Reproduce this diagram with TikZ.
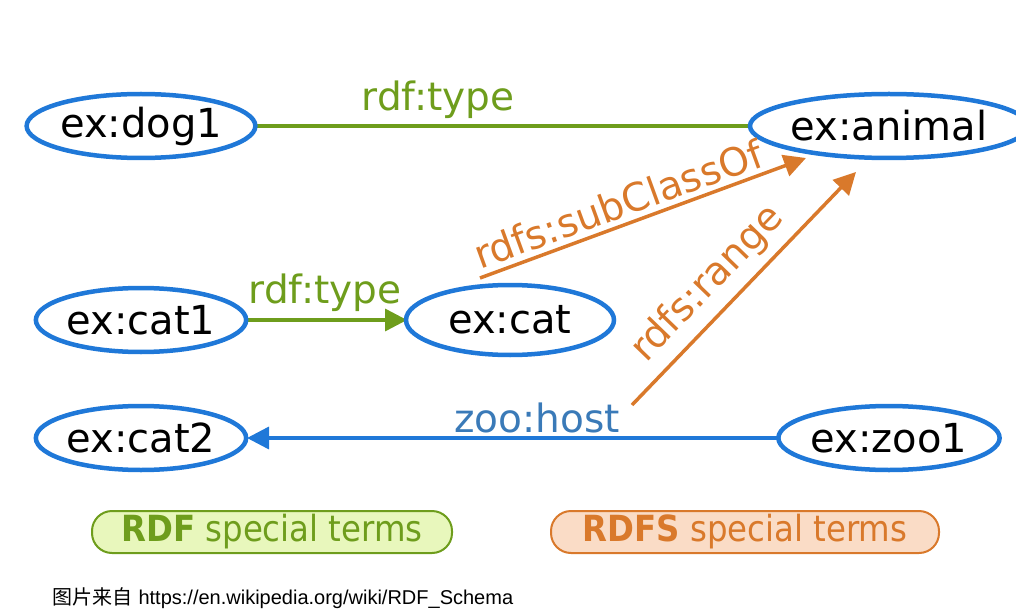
\documentclass[tikz,border=0pt]{standalone}
\usepackage{fontspec}
\setmainfont{DejaVu Sans}
\newfontfamily\cond{DejaVu Sans Condensed}
\newfontfamily\cjk{Noto Sans CJK SC}
\usetikzlibrary{arrows.meta,shapes.geometric}
\definecolor{bl}{HTML}{1F78D8}
\definecolor{bltx}{HTML}{3A7AB8}
\definecolor{gr}{HTML}{6E9D1C}
\definecolor{or}{HTML}{D9792B}
\definecolor{grfill}{HTML}{E8F7BC}
\definecolor{orfill}{HTML}{FADCC6}
\begin{document}
\begin{tikzpicture}[x=1pt,y=-1pt,
  res/.style={draw=bl,fill=white,line width=4.5pt,ellipse,minimum width=205pt,minimum height=64pt,inner sep=0pt,font=\fontsize{40}{42}\selectfont},
  arr/.style={line width=3.5pt,-{Triangle[length=22pt,width=22pt]}},
  lab/.style={font=\fontsize{39}{41}\selectfont}]
\useasboundingbox (0,0) rectangle (1016,612);
\draw[arr,gr] (245,126) -- (784,126);
\draw[arr,gr] (245,320) -- (407,320);
\draw[arr,bl] (785,438) -- (247,438);
\draw[arr,or] (480,278) -- (806,158);
\draw[arr,or] (632,405) -- (856,172);
\node[res] (dog1) at (141,126) {ex:dog1};
\node[res] (animal) at (889,126) {ex:animal};
\node[res] (cat1) at (141,320) {ex:cat1};
\node[res,minimum width=208pt,minimum height=70pt] (cat) at (510,320) {ex:cat};
\node[res] (cat2) at (141,438) {ex:cat2};
\node[res] (zoo1) at (889,438) {ex:zoo1};
\node[lab,text=gr] (l1) at (438,100) {rdf:type};
\node[lab,text=gr] (l2) at (325,293) {rdf:type};
\node[lab,text=bltx] (l3) at (537,418) {zoo:host};
\node[lab,text=or,rotate=20] (l4) at (618,204) {rdfs:subClassOf};
\node[lab,text=or,rotate=46] (l5) at (708,284) {rdfs:range};
\node[draw=gr,line width=2pt,fill=grfill,rounded corners=20pt,minimum width=360pt,minimum height=42pt,font=\cond\fontsize{36}{38}\selectfont,text=gr] (rdf) at (272,532) {\textbf{RDF} special terms};
\node[draw=or,line width=2pt,fill=orfill,rounded corners=20pt,minimum width=388pt,minimum height=42pt,font=\cond\fontsize{36}{38}\selectfont,text=or] (rdfs) at (745,532) {\textbf{RDFS} special terms};
\node[anchor=west,font=\fontsize{20}{22}\selectfont,inner sep=0pt] (src) at (52,598) {{\cjk 图片来自} {\fontspec{Liberation Sans}https://en.wikipedia.org/wiki/RDF\_Schema}};
\end{tikzpicture}
\end{document}
